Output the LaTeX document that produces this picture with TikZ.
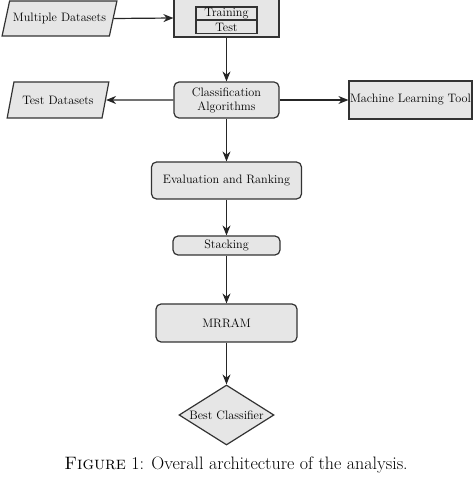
\documentclass[tikz,border=0pt]{standalone}
\usetikzlibrary{shapes.geometric,arrows.meta}
\definecolor{boxfill}{HTML}{E6E6E6}
\definecolor{boxline}{HTML}{333333}
\tikzset{
  base/.style={draw=boxline, fill=boxfill, line width=1.2pt, inner sep=0pt, font=\fontsize{12.2}{14}\selectfont, align=center},
  rbox/.style={base, rectangle, rounded corners=5pt},
  sbox/.style={base, rectangle},
  para/.style={base, trapezium, trapezium left angle=57, trapezium right angle=123, trapezium stretches=true},
  dia/.style={base, diamond, aspect=1.6},
  arr/.style={draw=black!85, line width=1.2pt, -{Stealth[length=10pt,width=8pt]}},
}
\begin{document}
\begin{tikzpicture}[x=1pt,y=1pt]
\useasboundingbox (0,0) rectangle (474,480);
% top row
\node[para, minimum width=115pt, minimum height=35pt] (md) at (59.5,461.5) {Multiple Datasets};
\node[sbox, minimum width=105pt, minimum height=38pt] (tt) at (226.5,462) {};
\node[sbox, minimum width=61pt, minimum height=12.5pt] (tr) at (226.5,466.75) {Training};
\node[sbox, minimum width=61pt, minimum height=12.5pt, anchor=north] (te) at (tr.south) {Test};
% second row
\node[rbox, minimum width=105pt, minimum height=36pt] (ca) at (226.5,380) {Classification\\Algorithms};
\node[para, minimum width=102pt, minimum height=36pt] (td) at (58,380) {Test Datasets};
\node[sbox, minimum width=123pt, minimum height=38pt] (ml) at (410.5,380) {Machine Learning Tool};
% column
\node[rbox, minimum width=150pt, minimum height=37pt] (ev) at (226.5,299.5) {Evaluation and Ranking};
\node[rbox, minimum width=107pt, minimum height=19pt] (st) at (226.5,234.5) {Stacking};
\node[rbox, minimum width=141pt, minimum height=38pt] (mr) at (226.5,157) {MRRAM};
\node[dia, minimum width=95pt, minimum height=60pt] (bc) at (226.5,65) {Best Classifier};
% caption
\node[font=\fontsize{18}{21}\selectfont] (cap) at (236,15) {\textsc{Figure} 1: Overall architecture of the analysis.};
% connectors
\draw[arr] (md.east) -- (tt.west);
\draw[arr] (tt.south) -- (ca.north);
\draw[arr] (ca.west) -- (td.east);
\draw[arr] (ca.east) -- (ml.west);
\draw[arr] (ca.south) -- (ev.north);
\draw[arr] (ev.south) -- (st.north);
\draw[arr] (st.south) -- (mr.north);
\draw[arr] (mr.south) -- (bc.north);
\end{tikzpicture}
\end{document}
